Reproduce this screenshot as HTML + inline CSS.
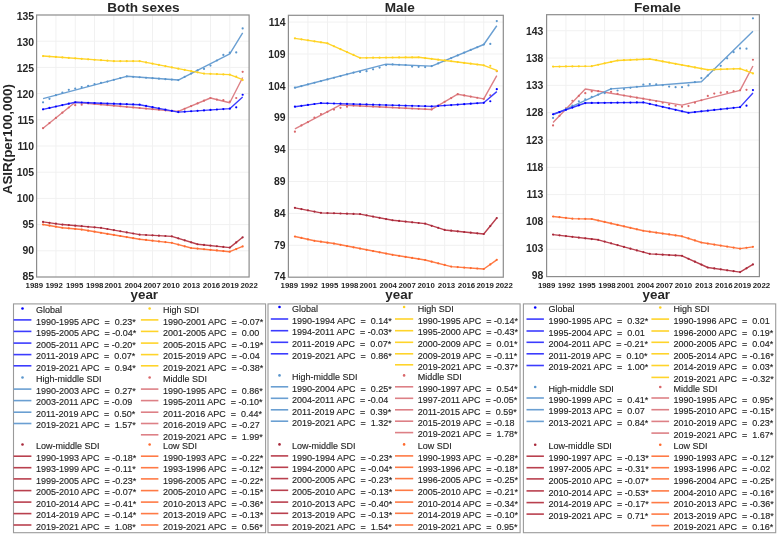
<!DOCTYPE html>
<html><head><meta charset="utf-8"><style>
html,body{margin:0;padding:0;background:#fff;}
svg{filter:blur(0.3px);}
body{width:778px;height:535px;position:relative;overflow:hidden;font-family:"Liberation Sans", sans-serif;}
</style></head><body>
<svg width="778" height="535" viewBox="0 0 778 535" style="position:absolute;left:0;top:0"><path d="M55.92 15.00V277.00M75.24 15.00V277.00M94.55 15.00V277.00M113.87 15.00V277.00M133.19 15.00V277.00M152.51 15.00V277.00M171.83 15.00V277.00M191.15 15.00V277.00M210.46 15.00V277.00M229.78 15.00V277.00M36.60 250.80H249.10M36.60 224.60H249.10M36.60 198.40H249.10M36.60 172.20H249.10M36.60 146.00H249.10M36.60 119.80H249.10M36.60 93.60H249.10M36.60 67.40H249.10M36.60 41.20H249.10" stroke="#f1f1f1" stroke-width="1" fill="none"/><polyline points="43.04,224.50 62.36,227.77 81.68,229.55 139.63,239.23 171.83,242.84 191.15,248.00 229.78,251.69 242.66,246.40" fill="none" stroke="#ff7a45" stroke-width="1.4" stroke-linejoin="round"/><g fill="#ff6a2e"><circle cx="43.04" cy="224.50" r="1.1"/><circle cx="49.48" cy="225.59" r="1.1"/><circle cx="55.92" cy="226.68" r="1.1"/><circle cx="62.36" cy="227.77" r="1.1"/><circle cx="68.80" cy="228.37" r="1.1"/><circle cx="75.24" cy="228.96" r="1.1"/><circle cx="81.68" cy="229.55" r="1.1"/><circle cx="88.12" cy="230.64" r="1.1"/><circle cx="94.55" cy="231.72" r="1.1"/><circle cx="100.99" cy="232.80" r="1.1"/><circle cx="107.43" cy="233.88" r="1.1"/><circle cx="113.87" cy="234.95" r="1.1"/><circle cx="120.31" cy="236.02" r="1.1"/><circle cx="126.75" cy="237.09" r="1.1"/><circle cx="133.19" cy="238.16" r="1.1"/><circle cx="139.63" cy="239.23" r="1.1"/><circle cx="146.07" cy="239.95" r="1.1"/><circle cx="152.51" cy="240.67" r="1.1"/><circle cx="158.95" cy="241.40" r="1.1"/><circle cx="165.39" cy="242.12" r="1.1"/><circle cx="171.83" cy="242.84" r="1.1"/><circle cx="178.27" cy="244.56" r="1.1"/><circle cx="184.71" cy="246.29" r="1.1"/><circle cx="191.15" cy="248.00" r="1.1"/><circle cx="197.58" cy="248.62" r="1.1"/><circle cx="204.02" cy="249.23" r="1.1"/><circle cx="210.46" cy="249.85" r="1.1"/><circle cx="216.90" cy="250.46" r="1.1"/><circle cx="223.34" cy="251.07" r="1.1"/><circle cx="229.78" cy="251.69" r="1.1"/><circle cx="236.22" cy="249.05" r="1.1"/><circle cx="242.66" cy="246.40" r="1.1"/></g><polyline points="43.04,221.88 62.36,224.57 100.99,227.85 139.63,234.64 171.83,236.34 197.58,244.26 229.78,247.60 242.66,237.29" fill="none" stroke="#b9404e" stroke-width="1.4" stroke-linejoin="round"/><g fill="#a8283a"><circle cx="43.04" cy="221.88" r="1.1"/><circle cx="49.48" cy="222.78" r="1.1"/><circle cx="55.92" cy="223.68" r="1.1"/><circle cx="62.36" cy="224.57" r="1.1"/><circle cx="68.80" cy="225.12" r="1.1"/><circle cx="75.24" cy="225.67" r="1.1"/><circle cx="81.68" cy="226.21" r="1.1"/><circle cx="88.12" cy="226.76" r="1.1"/><circle cx="94.55" cy="227.31" r="1.1"/><circle cx="100.99" cy="227.85" r="1.1"/><circle cx="107.43" cy="228.99" r="1.1"/><circle cx="113.87" cy="230.12" r="1.1"/><circle cx="120.31" cy="231.25" r="1.1"/><circle cx="126.75" cy="232.38" r="1.1"/><circle cx="133.19" cy="233.51" r="1.1"/><circle cx="139.63" cy="234.64" r="1.1"/><circle cx="146.07" cy="234.98" r="1.1"/><circle cx="152.51" cy="235.32" r="1.1"/><circle cx="158.95" cy="235.66" r="1.1"/><circle cx="165.39" cy="236.00" r="1.1"/><circle cx="171.83" cy="236.34" r="1.1"/><circle cx="178.27" cy="238.33" r="1.1"/><circle cx="184.71" cy="240.32" r="1.1"/><circle cx="191.15" cy="242.29" r="1.1"/><circle cx="197.58" cy="244.26" r="1.1"/><circle cx="204.02" cy="244.93" r="1.1"/><circle cx="210.46" cy="245.60" r="1.1"/><circle cx="216.90" cy="246.27" r="1.1"/><circle cx="223.34" cy="246.93" r="1.1"/><circle cx="229.78" cy="247.60" r="1.1"/><circle cx="236.22" cy="242.47" r="1.1"/><circle cx="242.66" cy="237.29" r="1.1"/></g><polyline points="43.04,128.18 75.24,102.19 178.27,111.44 210.46,97.99 229.78,102.73 242.66,77.46" fill="none" stroke="#dd8086" stroke-width="1.4" stroke-linejoin="round"/><g fill="#d9676a"><circle cx="43.04" cy="128.18" r="1.1"/><circle cx="49.48" cy="123.07" r="1.1"/><circle cx="55.92" cy="117.92" r="1.1"/><circle cx="62.36" cy="112.72" r="1.1"/><circle cx="68.80" cy="107.48" r="1.1"/><circle cx="75.24" cy="105.19" r="1.1"/><circle cx="81.68" cy="104.77" r="1.1"/><circle cx="88.12" cy="103.35" r="1.1"/><circle cx="94.55" cy="103.94" r="1.1"/><circle cx="100.99" cy="104.52" r="1.1"/><circle cx="107.43" cy="105.10" r="1.1"/><circle cx="113.87" cy="105.68" r="1.1"/><circle cx="120.31" cy="106.26" r="1.1"/><circle cx="126.75" cy="106.83" r="1.1"/><circle cx="133.19" cy="107.41" r="1.1"/><circle cx="139.63" cy="107.99" r="1.1"/><circle cx="146.07" cy="108.57" r="1.1"/><circle cx="152.51" cy="109.14" r="1.1"/><circle cx="158.95" cy="109.72" r="1.1"/><circle cx="165.39" cy="110.29" r="1.1"/><circle cx="171.83" cy="110.87" r="1.1"/><circle cx="178.27" cy="111.44" r="1.1"/><circle cx="184.71" cy="108.77" r="1.1"/><circle cx="191.15" cy="106.10" r="1.1"/><circle cx="197.58" cy="103.41" r="1.1"/><circle cx="204.02" cy="100.71" r="1.1"/><circle cx="210.46" cy="97.99" r="1.1"/><circle cx="216.90" cy="99.58" r="1.1"/><circle cx="223.34" cy="100.16" r="1.1"/><circle cx="229.78" cy="101.53" r="1.1"/><circle cx="236.22" cy="98.02" r="1.1"/><circle cx="242.66" cy="71.86" r="1.1"/></g><polyline points="43.04,98.58 126.75,76.32 178.27,80.06 229.78,53.85 242.66,32.92" fill="none" stroke="#6a9fd2" stroke-width="1.4" stroke-linejoin="round"/><g fill="#5a96cd"><circle cx="43.04" cy="102.28" r="1.1"/><circle cx="49.48" cy="98.79" r="1.1"/><circle cx="55.92" cy="95.20" r="1.1"/><circle cx="62.36" cy="92.61" r="1.1"/><circle cx="68.80" cy="89.81" r="1.1"/><circle cx="75.24" cy="88.61" r="1.1"/><circle cx="81.68" cy="87.05" r="1.1"/><circle cx="88.12" cy="85.89" r="1.1"/><circle cx="94.55" cy="84.08" r="1.1"/><circle cx="100.99" cy="82.80" r="1.1"/><circle cx="107.43" cy="81.53" r="1.1"/><circle cx="113.87" cy="79.80" r="1.1"/><circle cx="120.31" cy="78.06" r="1.1"/><circle cx="126.75" cy="76.32" r="1.1"/><circle cx="133.19" cy="76.79" r="1.1"/><circle cx="139.63" cy="77.26" r="1.1"/><circle cx="146.07" cy="77.73" r="1.1"/><circle cx="152.51" cy="78.20" r="1.1"/><circle cx="158.95" cy="78.66" r="1.1"/><circle cx="165.39" cy="79.13" r="1.1"/><circle cx="171.83" cy="79.60" r="1.1"/><circle cx="178.27" cy="80.06" r="1.1"/><circle cx="184.71" cy="76.84" r="1.1"/><circle cx="191.15" cy="73.61" r="1.1"/><circle cx="197.58" cy="70.35" r="1.1"/><circle cx="204.02" cy="68.89" r="1.1"/><circle cx="210.46" cy="65.60" r="1.1"/><circle cx="216.90" cy="60.50" r="1.1"/><circle cx="223.34" cy="54.88" r="1.1"/><circle cx="229.78" cy="52.65" r="1.1"/><circle cx="236.22" cy="52.47" r="1.1"/><circle cx="242.66" cy="28.42" r="1.1"/></g><polyline points="43.04,56.03 113.87,61.14 139.63,61.14 204.02,73.60 229.78,74.64 242.66,79.55" fill="none" stroke="#ffd42a" stroke-width="1.4" stroke-linejoin="round"/><g fill="#ffd21e"><circle cx="43.04" cy="56.03" r="1.1"/><circle cx="49.48" cy="56.50" r="1.1"/><circle cx="55.92" cy="56.96" r="1.1"/><circle cx="62.36" cy="57.43" r="1.1"/><circle cx="68.80" cy="57.89" r="1.1"/><circle cx="75.24" cy="58.36" r="1.1"/><circle cx="81.68" cy="58.82" r="1.1"/><circle cx="88.12" cy="59.29" r="1.1"/><circle cx="94.55" cy="59.75" r="1.1"/><circle cx="100.99" cy="60.22" r="1.1"/><circle cx="107.43" cy="60.68" r="1.1"/><circle cx="113.87" cy="61.14" r="1.1"/><circle cx="120.31" cy="61.14" r="1.1"/><circle cx="126.75" cy="61.14" r="1.1"/><circle cx="133.19" cy="61.14" r="1.1"/><circle cx="139.63" cy="61.14" r="1.1"/><circle cx="146.07" cy="62.40" r="1.1"/><circle cx="152.51" cy="63.65" r="1.1"/><circle cx="158.95" cy="64.90" r="1.1"/><circle cx="165.39" cy="66.15" r="1.1"/><circle cx="171.83" cy="67.40" r="1.1"/><circle cx="178.27" cy="68.64" r="1.1"/><circle cx="184.71" cy="69.89" r="1.1"/><circle cx="191.15" cy="71.13" r="1.1"/><circle cx="197.58" cy="72.36" r="1.1"/><circle cx="204.02" cy="73.60" r="1.1"/><circle cx="210.46" cy="73.86" r="1.1"/><circle cx="216.90" cy="74.12" r="1.1"/><circle cx="223.34" cy="74.38" r="1.1"/><circle cx="229.78" cy="74.64" r="1.1"/><circle cx="236.22" cy="76.60" r="1.1"/><circle cx="242.66" cy="80.05" r="1.1"/></g><polyline points="43.04,109.32 75.24,102.24 139.63,104.71 178.27,112.09 229.78,108.66 242.66,97.07" fill="none" stroke="#3c3cff" stroke-width="1.4" stroke-linejoin="round"/><g fill="#0000ff"><circle cx="43.04" cy="109.32" r="1.1"/><circle cx="49.48" cy="107.91" r="1.1"/><circle cx="55.92" cy="106.50" r="1.1"/><circle cx="62.36" cy="105.08" r="1.1"/><circle cx="68.80" cy="103.66" r="1.1"/><circle cx="75.24" cy="102.24" r="1.1"/><circle cx="81.68" cy="102.49" r="1.1"/><circle cx="88.12" cy="102.73" r="1.1"/><circle cx="94.55" cy="102.98" r="1.1"/><circle cx="100.99" cy="103.23" r="1.1"/><circle cx="107.43" cy="103.48" r="1.1"/><circle cx="113.87" cy="103.72" r="1.1"/><circle cx="120.31" cy="103.97" r="1.1"/><circle cx="126.75" cy="104.22" r="1.1"/><circle cx="133.19" cy="104.47" r="1.1"/><circle cx="139.63" cy="104.71" r="1.1"/><circle cx="146.07" cy="105.95" r="1.1"/><circle cx="152.51" cy="107.18" r="1.1"/><circle cx="158.95" cy="108.41" r="1.1"/><circle cx="165.39" cy="109.64" r="1.1"/><circle cx="171.83" cy="110.87" r="1.1"/><circle cx="178.27" cy="112.09" r="1.1"/><circle cx="184.71" cy="111.66" r="1.1"/><circle cx="191.15" cy="111.23" r="1.1"/><circle cx="197.58" cy="110.81" r="1.1"/><circle cx="204.02" cy="110.38" r="1.1"/><circle cx="210.46" cy="109.95" r="1.1"/><circle cx="216.90" cy="109.52" r="1.1"/><circle cx="223.34" cy="109.09" r="1.1"/><circle cx="229.78" cy="108.66" r="1.1"/><circle cx="236.22" cy="107.29" r="1.1"/><circle cx="242.66" cy="94.77" r="1.1"/></g><rect x="36.60" y="15.00" width="212.50" height="262.00" fill="none" stroke="#8c8c8c" stroke-width="1.2"/><text transform="translate(34.15,280) scale(1.04,1)" text-anchor="end" font-family='"Liberation Sans", sans-serif' font-weight="bold" font-size="10" fill="#262626">85</text><text transform="translate(34.15,254) scale(1.04,1)" text-anchor="end" font-family='"Liberation Sans", sans-serif' font-weight="bold" font-size="10" fill="#262626">90</text><text transform="translate(34.15,228) scale(1.04,1)" text-anchor="end" font-family='"Liberation Sans", sans-serif' font-weight="bold" font-size="10" fill="#262626">95</text><text transform="translate(34.15,202) scale(1.04,1)" text-anchor="end" font-family='"Liberation Sans", sans-serif' font-weight="bold" font-size="10" fill="#262626">100</text><text transform="translate(34.15,176) scale(1.04,1)" text-anchor="end" font-family='"Liberation Sans", sans-serif' font-weight="bold" font-size="10" fill="#262626">105</text><text transform="translate(34.15,150) scale(1.04,1)" text-anchor="end" font-family='"Liberation Sans", sans-serif' font-weight="bold" font-size="10" fill="#262626">110</text><text transform="translate(34.15,124) scale(1.04,1)" text-anchor="end" font-family='"Liberation Sans", sans-serif' font-weight="bold" font-size="10" fill="#262626">115</text><text transform="translate(34.15,98) scale(1.04,1)" text-anchor="end" font-family='"Liberation Sans", sans-serif' font-weight="bold" font-size="10" fill="#262626">120</text><text transform="translate(34.15,72) scale(1.04,1)" text-anchor="end" font-family='"Liberation Sans", sans-serif' font-weight="bold" font-size="10" fill="#262626">125</text><text transform="translate(34.15,46) scale(1.04,1)" text-anchor="end" font-family='"Liberation Sans", sans-serif' font-weight="bold" font-size="10" fill="#262626">130</text><text transform="translate(34.15,20) scale(1.04,1)" text-anchor="end" font-family='"Liberation Sans", sans-serif' font-weight="bold" font-size="10" fill="#262626">135</text><text transform="translate(34.30,288.3) scale(0.97,1)" text-anchor="middle" font-family='"Liberation Sans", sans-serif' font-weight="bold" font-size="8.1" fill="#262626">1989</text><text transform="translate(54.10,288.3) scale(0.97,1)" text-anchor="middle" font-family='"Liberation Sans", sans-serif' font-weight="bold" font-size="8.1" fill="#262626">1992</text><text transform="translate(74.60,288.3) scale(0.97,1)" text-anchor="middle" font-family='"Liberation Sans", sans-serif' font-weight="bold" font-size="8.1" fill="#262626">1995</text><text transform="translate(94.70,288.3) scale(0.97,1)" text-anchor="middle" font-family='"Liberation Sans", sans-serif' font-weight="bold" font-size="8.1" fill="#262626">1998</text><text transform="translate(113.20,288.3) scale(0.97,1)" text-anchor="middle" font-family='"Liberation Sans", sans-serif' font-weight="bold" font-size="8.1" fill="#262626">2001</text><text transform="translate(133.20,288.3) scale(0.97,1)" text-anchor="middle" font-family='"Liberation Sans", sans-serif' font-weight="bold" font-size="8.1" fill="#262626">2004</text><text transform="translate(152.10,288.3) scale(0.97,1)" text-anchor="middle" font-family='"Liberation Sans", sans-serif' font-weight="bold" font-size="8.1" fill="#262626">2007</text><text transform="translate(171.10,288.3) scale(0.97,1)" text-anchor="middle" font-family='"Liberation Sans", sans-serif' font-weight="bold" font-size="8.1" fill="#262626">2010</text><text transform="translate(191.50,288.3) scale(0.97,1)" text-anchor="middle" font-family='"Liberation Sans", sans-serif' font-weight="bold" font-size="8.1" fill="#262626">2013</text><text transform="translate(211.50,288.3) scale(0.97,1)" text-anchor="middle" font-family='"Liberation Sans", sans-serif' font-weight="bold" font-size="8.1" fill="#262626">2016</text><text transform="translate(230.20,288.3) scale(0.97,1)" text-anchor="middle" font-family='"Liberation Sans", sans-serif' font-weight="bold" font-size="8.1" fill="#262626">2019</text><text transform="translate(249.10,288.3) scale(0.97,1)" text-anchor="middle" font-family='"Liberation Sans", sans-serif' font-weight="bold" font-size="8.1" fill="#262626">2022</text><text x="143.40" y="11.6" text-anchor="middle" font-family='"Liberation Sans", sans-serif' font-weight="bold" font-size="13.6" fill="#262626">Both sexes</text><text transform="translate(144.30,298.6) scale(1.03,0.92)" text-anchor="middle" font-family='"Liberation Sans", sans-serif' font-weight="bold" font-size="13" fill="#262626">year</text><path d="M307.94 15.30V277.20M327.47 15.30V277.20M347.01 15.30V277.20M366.55 15.30V277.20M386.08 15.30V277.20M405.62 15.30V277.20M425.15 15.30V277.20M444.69 15.30V277.20M464.23 15.30V277.20M483.76 15.30V277.20M288.40 245.31H503.30M288.40 213.42H503.30M288.40 181.53H503.30M288.40 149.64H503.30M288.40 117.75H503.30M288.40 85.86H503.30M288.40 53.97H503.30M288.40 22.08H503.30" stroke="#f1f1f1" stroke-width="1" fill="none"/><polyline points="294.91,236.51 314.45,240.80 333.98,243.54 392.59,254.81 425.15,259.98 451.20,266.59 483.76,269.00 496.79,259.84" fill="none" stroke="#ff7a45" stroke-width="1.4" stroke-linejoin="round"/><g fill="#ff6a2e"><circle cx="294.91" cy="236.51" r="1.1"/><circle cx="301.42" cy="237.94" r="1.1"/><circle cx="307.94" cy="239.38" r="1.1"/><circle cx="314.45" cy="240.80" r="1.1"/><circle cx="320.96" cy="241.72" r="1.1"/><circle cx="327.47" cy="242.63" r="1.1"/><circle cx="333.98" cy="243.54" r="1.1"/><circle cx="340.50" cy="244.81" r="1.1"/><circle cx="347.01" cy="246.07" r="1.1"/><circle cx="353.52" cy="247.33" r="1.1"/><circle cx="360.03" cy="248.58" r="1.1"/><circle cx="366.55" cy="249.83" r="1.1"/><circle cx="373.06" cy="251.08" r="1.1"/><circle cx="379.57" cy="252.33" r="1.1"/><circle cx="386.08" cy="253.57" r="1.1"/><circle cx="392.59" cy="254.81" r="1.1"/><circle cx="399.11" cy="255.84" r="1.1"/><circle cx="405.62" cy="256.88" r="1.1"/><circle cx="412.13" cy="257.91" r="1.1"/><circle cx="418.64" cy="258.95" r="1.1"/><circle cx="425.15" cy="259.98" r="1.1"/><circle cx="431.67" cy="261.64" r="1.1"/><circle cx="438.18" cy="263.30" r="1.1"/><circle cx="444.69" cy="264.95" r="1.1"/><circle cx="451.20" cy="266.59" r="1.1"/><circle cx="457.72" cy="267.08" r="1.1"/><circle cx="464.23" cy="267.56" r="1.1"/><circle cx="470.74" cy="268.04" r="1.1"/><circle cx="477.25" cy="268.52" r="1.1"/><circle cx="483.76" cy="269.00" r="1.1"/><circle cx="490.28" cy="264.44" r="1.1"/><circle cx="496.79" cy="259.84" r="1.1"/></g><polyline points="294.91,207.87 320.96,212.83 360.03,214.12 392.59,220.24 425.15,223.67 444.69,229.95 483.76,233.99 496.79,218.00" fill="none" stroke="#b9404e" stroke-width="1.4" stroke-linejoin="round"/><g fill="#a8283a"><circle cx="294.91" cy="207.87" r="1.1"/><circle cx="301.42" cy="209.12" r="1.1"/><circle cx="307.94" cy="210.36" r="1.1"/><circle cx="314.45" cy="211.60" r="1.1"/><circle cx="320.96" cy="212.83" r="1.1"/><circle cx="327.47" cy="213.05" r="1.1"/><circle cx="333.98" cy="213.26" r="1.1"/><circle cx="340.50" cy="213.48" r="1.1"/><circle cx="347.01" cy="213.69" r="1.1"/><circle cx="353.52" cy="213.91" r="1.1"/><circle cx="360.03" cy="214.12" r="1.1"/><circle cx="366.55" cy="215.35" r="1.1"/><circle cx="373.06" cy="216.58" r="1.1"/><circle cx="379.57" cy="217.80" r="1.1"/><circle cx="386.08" cy="219.03" r="1.1"/><circle cx="392.59" cy="220.24" r="1.1"/><circle cx="399.11" cy="220.93" r="1.1"/><circle cx="405.62" cy="221.62" r="1.1"/><circle cx="412.13" cy="222.30" r="1.1"/><circle cx="418.64" cy="222.99" r="1.1"/><circle cx="425.15" cy="223.67" r="1.1"/><circle cx="431.67" cy="225.78" r="1.1"/><circle cx="438.18" cy="227.87" r="1.1"/><circle cx="444.69" cy="229.95" r="1.1"/><circle cx="451.20" cy="230.63" r="1.1"/><circle cx="457.72" cy="231.30" r="1.1"/><circle cx="464.23" cy="231.98" r="1.1"/><circle cx="470.74" cy="232.65" r="1.1"/><circle cx="477.25" cy="233.32" r="1.1"/><circle cx="483.76" cy="233.99" r="1.1"/><circle cx="490.28" cy="226.06" r="1.1"/><circle cx="496.79" cy="218.00" r="1.1"/></g><polyline points="294.91,128.78 340.50,104.95 431.67,109.44 457.72,94.21 483.76,98.92 496.79,75.56" fill="none" stroke="#dd8086" stroke-width="1.4" stroke-linejoin="round"/><g fill="#d9676a"><circle cx="294.91" cy="131.68" r="1.1"/><circle cx="301.42" cy="125.43" r="1.1"/><circle cx="307.94" cy="122.07" r="1.1"/><circle cx="314.45" cy="117.58" r="1.1"/><circle cx="320.96" cy="114.07" r="1.1"/><circle cx="327.47" cy="111.85" r="1.1"/><circle cx="333.98" cy="109.61" r="1.1"/><circle cx="340.50" cy="107.85" r="1.1"/><circle cx="347.01" cy="106.67" r="1.1"/><circle cx="353.52" cy="105.59" r="1.1"/><circle cx="360.03" cy="105.92" r="1.1"/><circle cx="366.55" cy="106.24" r="1.1"/><circle cx="373.06" cy="106.56" r="1.1"/><circle cx="379.57" cy="106.88" r="1.1"/><circle cx="386.08" cy="107.20" r="1.1"/><circle cx="392.59" cy="107.52" r="1.1"/><circle cx="399.11" cy="107.84" r="1.1"/><circle cx="405.62" cy="108.16" r="1.1"/><circle cx="412.13" cy="108.48" r="1.1"/><circle cx="418.64" cy="108.80" r="1.1"/><circle cx="425.15" cy="109.12" r="1.1"/><circle cx="431.67" cy="109.44" r="1.1"/><circle cx="438.18" cy="105.67" r="1.1"/><circle cx="444.69" cy="101.87" r="1.1"/><circle cx="451.20" cy="98.05" r="1.1"/><circle cx="457.72" cy="94.21" r="1.1"/><circle cx="464.23" cy="95.39" r="1.1"/><circle cx="470.74" cy="96.57" r="1.1"/><circle cx="477.25" cy="97.74" r="1.1"/><circle cx="483.76" cy="98.92" r="1.1"/><circle cx="490.28" cy="95.34" r="1.1"/><circle cx="496.79" cy="71.26" r="1.1"/></g><polyline points="294.91,87.71 386.08,64.18 431.67,66.09 483.76,44.49 496.79,25.76" fill="none" stroke="#6a9fd2" stroke-width="1.4" stroke-linejoin="round"/><g fill="#5a96cd"><circle cx="294.91" cy="87.71" r="1.1"/><circle cx="301.42" cy="86.06" r="1.1"/><circle cx="307.94" cy="84.40" r="1.1"/><circle cx="314.45" cy="82.74" r="1.1"/><circle cx="320.96" cy="81.07" r="1.1"/><circle cx="327.47" cy="79.40" r="1.1"/><circle cx="333.98" cy="77.73" r="1.1"/><circle cx="340.50" cy="76.05" r="1.1"/><circle cx="347.01" cy="74.36" r="1.1"/><circle cx="353.52" cy="72.68" r="1.1"/><circle cx="360.03" cy="71.89" r="1.1"/><circle cx="366.55" cy="71.19" r="1.1"/><circle cx="373.06" cy="69.29" r="1.1"/><circle cx="379.57" cy="67.59" r="1.1"/><circle cx="386.08" cy="65.08" r="1.1"/><circle cx="392.59" cy="64.45" r="1.1"/><circle cx="399.11" cy="64.73" r="1.1"/><circle cx="405.62" cy="65.00" r="1.1"/><circle cx="412.13" cy="66.57" r="1.1"/><circle cx="418.64" cy="66.85" r="1.1"/><circle cx="425.15" cy="67.12" r="1.1"/><circle cx="431.67" cy="66.09" r="1.1"/><circle cx="438.18" cy="63.43" r="1.1"/><circle cx="444.69" cy="60.76" r="1.1"/><circle cx="451.20" cy="58.07" r="1.1"/><circle cx="457.72" cy="55.38" r="1.1"/><circle cx="464.23" cy="52.67" r="1.1"/><circle cx="470.74" cy="49.95" r="1.1"/><circle cx="477.25" cy="47.23" r="1.1"/><circle cx="483.76" cy="44.49" r="1.1"/><circle cx="490.28" cy="43.89" r="1.1"/><circle cx="496.79" cy="21.06" r="1.1"/></g><polyline points="294.91,38.34 327.47,43.31 360.03,57.85 418.64,57.23 483.76,65.30 496.79,70.35" fill="none" stroke="#ffd42a" stroke-width="1.4" stroke-linejoin="round"/><g fill="#ffd21e"><circle cx="294.91" cy="38.34" r="1.1"/><circle cx="301.42" cy="39.34" r="1.1"/><circle cx="307.94" cy="40.33" r="1.1"/><circle cx="314.45" cy="41.33" r="1.1"/><circle cx="320.96" cy="42.32" r="1.1"/><circle cx="327.47" cy="43.31" r="1.1"/><circle cx="333.98" cy="46.24" r="1.1"/><circle cx="340.50" cy="49.16" r="1.1"/><circle cx="347.01" cy="52.07" r="1.1"/><circle cx="353.52" cy="54.97" r="1.1"/><circle cx="360.03" cy="57.85" r="1.1"/><circle cx="366.55" cy="57.78" r="1.1"/><circle cx="373.06" cy="57.71" r="1.1"/><circle cx="379.57" cy="57.64" r="1.1"/><circle cx="386.08" cy="57.58" r="1.1"/><circle cx="392.59" cy="57.51" r="1.1"/><circle cx="399.11" cy="57.44" r="1.1"/><circle cx="405.62" cy="57.37" r="1.1"/><circle cx="412.13" cy="57.30" r="1.1"/><circle cx="418.64" cy="57.23" r="1.1"/><circle cx="425.15" cy="58.04" r="1.1"/><circle cx="431.67" cy="58.85" r="1.1"/><circle cx="438.18" cy="59.66" r="1.1"/><circle cx="444.69" cy="60.47" r="1.1"/><circle cx="451.20" cy="61.27" r="1.1"/><circle cx="457.72" cy="62.08" r="1.1"/><circle cx="464.23" cy="62.89" r="1.1"/><circle cx="470.74" cy="63.69" r="1.1"/><circle cx="477.25" cy="64.50" r="1.1"/><circle cx="483.76" cy="65.30" r="1.1"/><circle cx="490.28" cy="65.83" r="1.1"/><circle cx="496.79" cy="70.85" r="1.1"/></g><polyline points="294.91,106.72 320.96,103.11 431.67,106.40 483.76,102.79 496.79,91.62" fill="none" stroke="#3c3cff" stroke-width="1.4" stroke-linejoin="round"/><g fill="#0000ff"><circle cx="294.91" cy="106.72" r="1.1"/><circle cx="301.42" cy="105.82" r="1.1"/><circle cx="307.94" cy="104.92" r="1.1"/><circle cx="314.45" cy="104.01" r="1.1"/><circle cx="320.96" cy="103.11" r="1.1"/><circle cx="327.47" cy="103.30" r="1.1"/><circle cx="333.98" cy="103.50" r="1.1"/><circle cx="340.50" cy="103.69" r="1.1"/><circle cx="347.01" cy="103.89" r="1.1"/><circle cx="353.52" cy="104.08" r="1.1"/><circle cx="360.03" cy="104.27" r="1.1"/><circle cx="366.55" cy="104.47" r="1.1"/><circle cx="373.06" cy="104.66" r="1.1"/><circle cx="379.57" cy="104.85" r="1.1"/><circle cx="386.08" cy="105.05" r="1.1"/><circle cx="392.59" cy="105.24" r="1.1"/><circle cx="399.11" cy="105.43" r="1.1"/><circle cx="405.62" cy="105.63" r="1.1"/><circle cx="412.13" cy="105.82" r="1.1"/><circle cx="418.64" cy="106.01" r="1.1"/><circle cx="425.15" cy="106.20" r="1.1"/><circle cx="431.67" cy="106.40" r="1.1"/><circle cx="438.18" cy="105.95" r="1.1"/><circle cx="444.69" cy="105.50" r="1.1"/><circle cx="451.20" cy="105.05" r="1.1"/><circle cx="457.72" cy="104.60" r="1.1"/><circle cx="464.23" cy="104.14" r="1.1"/><circle cx="470.74" cy="103.69" r="1.1"/><circle cx="477.25" cy="103.24" r="1.1"/><circle cx="483.76" cy="102.79" r="1.1"/><circle cx="490.28" cy="101.23" r="1.1"/><circle cx="496.79" cy="89.22" r="1.1"/></g><rect x="288.40" y="15.30" width="214.90" height="261.90" fill="none" stroke="#8c8c8c" stroke-width="1.2"/><text transform="translate(285.55,280) scale(1.04,1)" text-anchor="end" font-family='"Liberation Sans", sans-serif' font-weight="bold" font-size="10" fill="#262626">74</text><text transform="translate(285.55,249) scale(1.04,1)" text-anchor="end" font-family='"Liberation Sans", sans-serif' font-weight="bold" font-size="10" fill="#262626">79</text><text transform="translate(285.55,217) scale(1.04,1)" text-anchor="end" font-family='"Liberation Sans", sans-serif' font-weight="bold" font-size="10" fill="#262626">84</text><text transform="translate(285.55,185) scale(1.04,1)" text-anchor="end" font-family='"Liberation Sans", sans-serif' font-weight="bold" font-size="10" fill="#262626">89</text><text transform="translate(285.55,153) scale(1.04,1)" text-anchor="end" font-family='"Liberation Sans", sans-serif' font-weight="bold" font-size="10" fill="#262626">94</text><text transform="translate(285.55,121) scale(1.04,1)" text-anchor="end" font-family='"Liberation Sans", sans-serif' font-weight="bold" font-size="10" fill="#262626">99</text><text transform="translate(285.55,90) scale(1.04,1)" text-anchor="end" font-family='"Liberation Sans", sans-serif' font-weight="bold" font-size="10" fill="#262626">104</text><text transform="translate(285.55,58) scale(1.04,1)" text-anchor="end" font-family='"Liberation Sans", sans-serif' font-weight="bold" font-size="10" fill="#262626">109</text><text transform="translate(285.55,26) scale(1.04,1)" text-anchor="end" font-family='"Liberation Sans", sans-serif' font-weight="bold" font-size="10" fill="#262626">114</text><text transform="translate(289.30,288.3) scale(0.97,1)" text-anchor="middle" font-family='"Liberation Sans", sans-serif' font-weight="bold" font-size="8.1" fill="#262626">1989</text><text transform="translate(309.10,288.3) scale(0.97,1)" text-anchor="middle" font-family='"Liberation Sans", sans-serif' font-weight="bold" font-size="8.1" fill="#262626">1992</text><text transform="translate(329.60,288.3) scale(0.97,1)" text-anchor="middle" font-family='"Liberation Sans", sans-serif' font-weight="bold" font-size="8.1" fill="#262626">1995</text><text transform="translate(349.70,288.3) scale(0.97,1)" text-anchor="middle" font-family='"Liberation Sans", sans-serif' font-weight="bold" font-size="8.1" fill="#262626">1998</text><text transform="translate(368.20,288.3) scale(0.97,1)" text-anchor="middle" font-family='"Liberation Sans", sans-serif' font-weight="bold" font-size="8.1" fill="#262626">2001</text><text transform="translate(388.20,288.3) scale(0.97,1)" text-anchor="middle" font-family='"Liberation Sans", sans-serif' font-weight="bold" font-size="8.1" fill="#262626">2004</text><text transform="translate(407.10,288.3) scale(0.97,1)" text-anchor="middle" font-family='"Liberation Sans", sans-serif' font-weight="bold" font-size="8.1" fill="#262626">2007</text><text transform="translate(426.10,288.3) scale(0.97,1)" text-anchor="middle" font-family='"Liberation Sans", sans-serif' font-weight="bold" font-size="8.1" fill="#262626">2010</text><text transform="translate(446.50,288.3) scale(0.97,1)" text-anchor="middle" font-family='"Liberation Sans", sans-serif' font-weight="bold" font-size="8.1" fill="#262626">2013</text><text transform="translate(466.50,288.3) scale(0.97,1)" text-anchor="middle" font-family='"Liberation Sans", sans-serif' font-weight="bold" font-size="8.1" fill="#262626">2016</text><text transform="translate(485.20,288.3) scale(0.97,1)" text-anchor="middle" font-family='"Liberation Sans", sans-serif' font-weight="bold" font-size="8.1" fill="#262626">2019</text><text transform="translate(504.10,288.3) scale(0.97,1)" text-anchor="middle" font-family='"Liberation Sans", sans-serif' font-weight="bold" font-size="8.1" fill="#262626">2022</text><text x="399.80" y="11.6" text-anchor="middle" font-family='"Liberation Sans", sans-serif' font-weight="bold" font-size="13.6" fill="#262626">Male</text><text transform="translate(399.10,298.6) scale(1.03,0.92)" text-anchor="middle" font-family='"Liberation Sans", sans-serif' font-weight="bold" font-size="13" fill="#262626">year</text><path d="M565.95 14.70V276.60M585.29 14.70V276.60M604.64 14.70V276.60M623.98 14.70V276.60M643.33 14.70V276.60M662.67 14.70V276.60M682.02 14.70V276.60M701.36 14.70V276.60M720.71 14.70V276.60M740.05 14.70V276.60M546.60 249.28H759.40M546.60 221.96H759.40M546.60 194.64H759.40M546.60 167.32H759.40M546.60 140.00H759.40M546.60 112.68H759.40M546.60 85.36H759.40M546.60 58.04H759.40M546.60 30.72H759.40" stroke="#f1f1f1" stroke-width="1" fill="none"/><polyline points="553.05,216.50 572.39,218.64 591.74,218.99 643.33,230.75 682.02,236.31 701.36,242.51 740.05,248.63 752.95,246.83" fill="none" stroke="#ff7a45" stroke-width="1.4" stroke-linejoin="round"/><g fill="#ff6a2e"><circle cx="553.05" cy="216.50" r="1.1"/><circle cx="559.50" cy="217.21" r="1.1"/><circle cx="565.95" cy="217.92" r="1.1"/><circle cx="572.39" cy="218.64" r="1.1"/><circle cx="578.84" cy="218.76" r="1.1"/><circle cx="585.29" cy="218.87" r="1.1"/><circle cx="591.74" cy="218.99" r="1.1"/><circle cx="598.19" cy="220.48" r="1.1"/><circle cx="604.64" cy="221.96" r="1.1"/><circle cx="611.08" cy="223.43" r="1.1"/><circle cx="617.53" cy="224.90" r="1.1"/><circle cx="623.98" cy="226.37" r="1.1"/><circle cx="630.43" cy="227.83" r="1.1"/><circle cx="636.88" cy="229.29" r="1.1"/><circle cx="643.33" cy="230.75" r="1.1"/><circle cx="649.78" cy="231.68" r="1.1"/><circle cx="656.22" cy="232.61" r="1.1"/><circle cx="662.67" cy="233.54" r="1.1"/><circle cx="669.12" cy="234.46" r="1.1"/><circle cx="675.57" cy="235.39" r="1.1"/><circle cx="682.02" cy="236.31" r="1.1"/><circle cx="688.47" cy="238.38" r="1.1"/><circle cx="694.92" cy="240.45" r="1.1"/><circle cx="701.36" cy="242.51" r="1.1"/><circle cx="707.81" cy="243.53" r="1.1"/><circle cx="714.26" cy="244.55" r="1.1"/><circle cx="720.71" cy="245.58" r="1.1"/><circle cx="727.16" cy="246.60" r="1.1"/><circle cx="733.61" cy="247.61" r="1.1"/><circle cx="740.05" cy="248.63" r="1.1"/><circle cx="746.50" cy="247.73" r="1.1"/><circle cx="752.95" cy="246.83" r="1.1"/></g><polyline points="553.05,234.58 598.19,239.82 649.78,253.86 682.02,255.81 707.81,267.51 740.05,272.12 752.95,264.42" fill="none" stroke="#b9404e" stroke-width="1.4" stroke-linejoin="round"/><g fill="#a8283a"><circle cx="553.05" cy="234.58" r="1.1"/><circle cx="559.50" cy="235.33" r="1.1"/><circle cx="565.95" cy="236.08" r="1.1"/><circle cx="572.39" cy="236.83" r="1.1"/><circle cx="578.84" cy="237.58" r="1.1"/><circle cx="585.29" cy="238.33" r="1.1"/><circle cx="591.74" cy="239.07" r="1.1"/><circle cx="598.19" cy="239.82" r="1.1"/><circle cx="604.64" cy="241.59" r="1.1"/><circle cx="611.08" cy="243.36" r="1.1"/><circle cx="617.53" cy="245.12" r="1.1"/><circle cx="623.98" cy="246.88" r="1.1"/><circle cx="630.43" cy="248.63" r="1.1"/><circle cx="636.88" cy="250.38" r="1.1"/><circle cx="643.33" cy="252.12" r="1.1"/><circle cx="649.78" cy="253.86" r="1.1"/><circle cx="656.22" cy="254.25" r="1.1"/><circle cx="662.67" cy="254.64" r="1.1"/><circle cx="669.12" cy="255.03" r="1.1"/><circle cx="675.57" cy="255.42" r="1.1"/><circle cx="682.02" cy="255.81" r="1.1"/><circle cx="688.47" cy="258.75" r="1.1"/><circle cx="694.92" cy="261.69" r="1.1"/><circle cx="701.36" cy="264.60" r="1.1"/><circle cx="707.81" cy="267.51" r="1.1"/><circle cx="714.26" cy="268.43" r="1.1"/><circle cx="720.71" cy="269.36" r="1.1"/><circle cx="727.16" cy="270.28" r="1.1"/><circle cx="733.61" cy="271.20" r="1.1"/><circle cx="740.05" cy="272.12" r="1.1"/><circle cx="746.50" cy="268.29" r="1.1"/><circle cx="752.95" cy="264.42" r="1.1"/></g><polyline points="553.05,122.41 585.29,89.02 682.02,105.12 740.05,90.35 752.95,66.04" fill="none" stroke="#dd8086" stroke-width="1.4" stroke-linejoin="round"/><g fill="#d9676a"><circle cx="553.05" cy="125.41" r="1.1"/><circle cx="559.50" cy="115.85" r="1.1"/><circle cx="565.95" cy="108.24" r="1.1"/><circle cx="572.39" cy="100.76" r="1.1"/><circle cx="578.84" cy="95.82" r="1.1"/><circle cx="585.29" cy="93.22" r="1.1"/><circle cx="591.74" cy="91.40" r="1.1"/><circle cx="598.19" cy="91.19" r="1.1"/><circle cx="604.64" cy="92.27" r="1.1"/><circle cx="611.08" cy="91.85" r="1.1"/><circle cx="617.53" cy="93.83" r="1.1"/><circle cx="623.98" cy="95.50" r="1.1"/><circle cx="630.43" cy="96.58" r="1.1"/><circle cx="636.88" cy="97.65" r="1.1"/><circle cx="643.33" cy="98.72" r="1.1"/><circle cx="649.78" cy="99.79" r="1.1"/><circle cx="656.22" cy="101.16" r="1.1"/><circle cx="662.67" cy="102.73" r="1.1"/><circle cx="669.12" cy="104.44" r="1.1"/><circle cx="675.57" cy="105.76" r="1.1"/><circle cx="682.02" cy="106.72" r="1.1"/><circle cx="688.47" cy="106.09" r="1.1"/><circle cx="694.92" cy="102.71" r="1.1"/><circle cx="701.36" cy="100.23" r="1.1"/><circle cx="707.81" cy="95.89" r="1.1"/><circle cx="714.26" cy="93.55" r="1.1"/><circle cx="720.71" cy="92.71" r="1.1"/><circle cx="727.16" cy="92.06" r="1.1"/><circle cx="733.61" cy="91.20" r="1.1"/><circle cx="740.05" cy="90.35" r="1.1"/><circle cx="746.50" cy="89.80" r="1.1"/><circle cx="752.95" cy="59.74" r="1.1"/></g><polyline points="553.05,114.97 611.08,88.83 701.36,81.71 752.95,31.16" fill="none" stroke="#6a9fd2" stroke-width="1.4" stroke-linejoin="round"/><g fill="#5a96cd"><circle cx="553.05" cy="117.97" r="1.1"/><circle cx="559.50" cy="112.12" r="1.1"/><circle cx="565.95" cy="109.25" r="1.1"/><circle cx="572.39" cy="105.57" r="1.1"/><circle cx="578.84" cy="101.37" r="1.1"/><circle cx="585.29" cy="99.27" r="1.1"/><circle cx="591.74" cy="96.95" r="1.1"/><circle cx="598.19" cy="94.72" r="1.1"/><circle cx="604.64" cy="93.18" r="1.1"/><circle cx="611.08" cy="88.83" r="1.1"/><circle cx="617.53" cy="90.52" r="1.1"/><circle cx="623.98" cy="89.11" r="1.1"/><circle cx="630.43" cy="87.81" r="1.1"/><circle cx="636.88" cy="86.80" r="1.1"/><circle cx="643.33" cy="84.69" r="1.1"/><circle cx="649.78" cy="84.08" r="1.1"/><circle cx="656.22" cy="84.27" r="1.1"/><circle cx="662.67" cy="85.27" r="1.1"/><circle cx="669.12" cy="86.56" r="1.1"/><circle cx="675.57" cy="87.15" r="1.1"/><circle cx="682.02" cy="87.14" r="1.1"/><circle cx="688.47" cy="85.43" r="1.1"/><circle cx="694.92" cy="82.22" r="1.1"/><circle cx="701.36" cy="78.11" r="1.1"/><circle cx="707.81" cy="75.57" r="1.1"/><circle cx="714.26" cy="69.38" r="1.1"/><circle cx="720.71" cy="65.85" r="1.1"/><circle cx="727.16" cy="58.35" r="1.1"/><circle cx="733.61" cy="52.21" r="1.1"/><circle cx="740.05" cy="48.41" r="1.1"/><circle cx="746.50" cy="48.66" r="1.1"/><circle cx="752.95" cy="18.36" r="1.1"/></g><polyline points="553.05,66.62 591.74,66.17 617.53,60.49 649.78,58.98 707.81,69.76 740.05,68.64 752.95,73.39" fill="none" stroke="#ffd42a" stroke-width="1.4" stroke-linejoin="round"/><g fill="#ffd21e"><circle cx="553.05" cy="66.62" r="1.1"/><circle cx="559.50" cy="66.54" r="1.1"/><circle cx="565.95" cy="66.47" r="1.1"/><circle cx="572.39" cy="66.39" r="1.1"/><circle cx="578.84" cy="66.32" r="1.1"/><circle cx="585.29" cy="66.25" r="1.1"/><circle cx="591.74" cy="66.17" r="1.1"/><circle cx="598.19" cy="64.75" r="1.1"/><circle cx="604.64" cy="63.33" r="1.1"/><circle cx="611.08" cy="61.91" r="1.1"/><circle cx="617.53" cy="60.49" r="1.1"/><circle cx="623.98" cy="60.19" r="1.1"/><circle cx="630.43" cy="59.88" r="1.1"/><circle cx="636.88" cy="59.58" r="1.1"/><circle cx="643.33" cy="59.28" r="1.1"/><circle cx="649.78" cy="58.98" r="1.1"/><circle cx="656.22" cy="60.19" r="1.1"/><circle cx="662.67" cy="61.39" r="1.1"/><circle cx="669.12" cy="62.59" r="1.1"/><circle cx="675.57" cy="63.79" r="1.1"/><circle cx="682.02" cy="64.99" r="1.1"/><circle cx="688.47" cy="66.18" r="1.1"/><circle cx="694.92" cy="67.38" r="1.1"/><circle cx="701.36" cy="68.57" r="1.1"/><circle cx="707.81" cy="69.76" r="1.1"/><circle cx="714.26" cy="69.53" r="1.1"/><circle cx="720.71" cy="69.31" r="1.1"/><circle cx="727.16" cy="69.09" r="1.1"/><circle cx="733.61" cy="68.87" r="1.1"/><circle cx="740.05" cy="68.64" r="1.1"/><circle cx="746.50" cy="70.32" r="1.1"/><circle cx="752.95" cy="73.39" r="1.1"/></g><polyline points="553.05,114.26 585.29,103.03 643.33,102.39 688.47,112.76 740.05,107.14 752.95,92.97" fill="none" stroke="#3c3cff" stroke-width="1.4" stroke-linejoin="round"/><g fill="#0000ff"><circle cx="553.05" cy="114.26" r="1.1"/><circle cx="559.50" cy="112.03" r="1.1"/><circle cx="565.95" cy="109.79" r="1.1"/><circle cx="572.39" cy="107.54" r="1.1"/><circle cx="578.84" cy="105.29" r="1.1"/><circle cx="585.29" cy="103.03" r="1.1"/><circle cx="591.74" cy="102.96" r="1.1"/><circle cx="598.19" cy="102.89" r="1.1"/><circle cx="604.64" cy="102.82" r="1.1"/><circle cx="611.08" cy="102.74" r="1.1"/><circle cx="617.53" cy="102.67" r="1.1"/><circle cx="623.98" cy="102.60" r="1.1"/><circle cx="630.43" cy="102.53" r="1.1"/><circle cx="636.88" cy="102.46" r="1.1"/><circle cx="643.33" cy="102.39" r="1.1"/><circle cx="649.78" cy="103.88" r="1.1"/><circle cx="656.22" cy="105.37" r="1.1"/><circle cx="662.67" cy="106.85" r="1.1"/><circle cx="669.12" cy="108.33" r="1.1"/><circle cx="675.57" cy="109.81" r="1.1"/><circle cx="682.02" cy="111.28" r="1.1"/><circle cx="688.47" cy="112.76" r="1.1"/><circle cx="694.92" cy="112.06" r="1.1"/><circle cx="701.36" cy="111.36" r="1.1"/><circle cx="707.81" cy="110.66" r="1.1"/><circle cx="714.26" cy="109.95" r="1.1"/><circle cx="720.71" cy="109.25" r="1.1"/><circle cx="727.16" cy="108.55" r="1.1"/><circle cx="733.61" cy="107.85" r="1.1"/><circle cx="740.05" cy="107.14" r="1.1"/><circle cx="746.50" cy="105.69" r="1.1"/><circle cx="752.95" cy="90.07" r="1.1"/></g><rect x="546.60" y="14.70" width="212.80" height="261.90" fill="none" stroke="#8c8c8c" stroke-width="1.2"/><text transform="translate(543.35,279) scale(1.04,1)" text-anchor="end" font-family='"Liberation Sans", sans-serif' font-weight="bold" font-size="10" fill="#262626">98</text><text transform="translate(543.35,252) scale(1.04,1)" text-anchor="end" font-family='"Liberation Sans", sans-serif' font-weight="bold" font-size="10" fill="#262626">103</text><text transform="translate(543.35,225) scale(1.04,1)" text-anchor="end" font-family='"Liberation Sans", sans-serif' font-weight="bold" font-size="10" fill="#262626">108</text><text transform="translate(543.35,198) scale(1.04,1)" text-anchor="end" font-family='"Liberation Sans", sans-serif' font-weight="bold" font-size="10" fill="#262626">113</text><text transform="translate(543.35,171) scale(1.04,1)" text-anchor="end" font-family='"Liberation Sans", sans-serif' font-weight="bold" font-size="10" fill="#262626">118</text><text transform="translate(543.35,144) scale(1.04,1)" text-anchor="end" font-family='"Liberation Sans", sans-serif' font-weight="bold" font-size="10" fill="#262626">123</text><text transform="translate(543.35,116) scale(1.04,1)" text-anchor="end" font-family='"Liberation Sans", sans-serif' font-weight="bold" font-size="10" fill="#262626">128</text><text transform="translate(543.35,89) scale(1.04,1)" text-anchor="end" font-family='"Liberation Sans", sans-serif' font-weight="bold" font-size="10" fill="#262626">133</text><text transform="translate(543.35,62) scale(1.04,1)" text-anchor="end" font-family='"Liberation Sans", sans-serif' font-weight="bold" font-size="10" fill="#262626">138</text><text transform="translate(543.35,35) scale(1.04,1)" text-anchor="end" font-family='"Liberation Sans", sans-serif' font-weight="bold" font-size="10" fill="#262626">143</text><text transform="translate(546.60,288.3) scale(0.97,1)" text-anchor="middle" font-family='"Liberation Sans", sans-serif' font-weight="bold" font-size="8.1" fill="#262626">1989</text><text transform="translate(566.40,288.3) scale(0.97,1)" text-anchor="middle" font-family='"Liberation Sans", sans-serif' font-weight="bold" font-size="8.1" fill="#262626">1992</text><text transform="translate(586.90,288.3) scale(0.97,1)" text-anchor="middle" font-family='"Liberation Sans", sans-serif' font-weight="bold" font-size="8.1" fill="#262626">1995</text><text transform="translate(607.00,288.3) scale(0.97,1)" text-anchor="middle" font-family='"Liberation Sans", sans-serif' font-weight="bold" font-size="8.1" fill="#262626">1998</text><text transform="translate(625.50,288.3) scale(0.97,1)" text-anchor="middle" font-family='"Liberation Sans", sans-serif' font-weight="bold" font-size="8.1" fill="#262626">2001</text><text transform="translate(645.50,288.3) scale(0.97,1)" text-anchor="middle" font-family='"Liberation Sans", sans-serif' font-weight="bold" font-size="8.1" fill="#262626">2004</text><text transform="translate(664.40,288.3) scale(0.97,1)" text-anchor="middle" font-family='"Liberation Sans", sans-serif' font-weight="bold" font-size="8.1" fill="#262626">2007</text><text transform="translate(683.40,288.3) scale(0.97,1)" text-anchor="middle" font-family='"Liberation Sans", sans-serif' font-weight="bold" font-size="8.1" fill="#262626">2010</text><text transform="translate(703.80,288.3) scale(0.97,1)" text-anchor="middle" font-family='"Liberation Sans", sans-serif' font-weight="bold" font-size="8.1" fill="#262626">2013</text><text transform="translate(723.80,288.3) scale(0.97,1)" text-anchor="middle" font-family='"Liberation Sans", sans-serif' font-weight="bold" font-size="8.1" fill="#262626">2016</text><text transform="translate(742.50,288.3) scale(0.97,1)" text-anchor="middle" font-family='"Liberation Sans", sans-serif' font-weight="bold" font-size="8.1" fill="#262626">2019</text><text transform="translate(761.40,288.3) scale(0.97,1)" text-anchor="middle" font-family='"Liberation Sans", sans-serif' font-weight="bold" font-size="8.1" fill="#262626">2022</text><text x="657.50" y="11.6" text-anchor="middle" font-family='"Liberation Sans", sans-serif' font-weight="bold" font-size="13.6" fill="#262626">Female</text><text transform="translate(656.30,298.6) scale(1.03,0.92)" text-anchor="middle" font-family='"Liberation Sans", sans-serif' font-weight="bold" font-size="13" fill="#262626">year</text><text transform="translate(12.1,139.2) rotate(-90) scale(1.03,1)" text-anchor="middle" font-family='"Liberation Sans", sans-serif' font-weight="bold" font-size="13" fill="#262626">ASIR(per100,000)</text><rect x="13.50" y="303.90" width="252.10" height="228.80" fill="#fff" stroke="#9a9a9a" stroke-width="1.1"/><circle cx="22.50" cy="308.50" r="1.3" fill="#0000ff"/><text transform="translate(36.10,313) scale(1,1.07)" font-family='"Liberation Sans", sans-serif' font-size="9" fill="#222" stroke="#222" stroke-width="0.12" xml:space="preserve" style="white-space:pre">Global</text><path d="M13.60 319.90H31.40" stroke="#3c3cff" stroke-width="1.6"/><text transform="translate(36.10,325) scale(1,1.07)" font-family='"Liberation Sans", sans-serif' font-size="9" fill="#222" stroke="#222" stroke-width="0.12" xml:space="preserve" style="white-space:pre">1990-1995 APC  =  0.23*</text><path d="M13.60 331.40H31.40" stroke="#3c3cff" stroke-width="1.6"/><text transform="translate(36.10,336) scale(1,1.07)" font-family='"Liberation Sans", sans-serif' font-size="9" fill="#222" stroke="#222" stroke-width="0.12" xml:space="preserve" style="white-space:pre">1995-2005 APC  = -0.04*</text><path d="M13.60 343.10H31.40" stroke="#3c3cff" stroke-width="1.6"/><text transform="translate(36.10,348) scale(1,1.07)" font-family='"Liberation Sans", sans-serif' font-size="9" fill="#222" stroke="#222" stroke-width="0.12" xml:space="preserve" style="white-space:pre">2005-2011 APC  = -0.20*</text><path d="M13.60 354.60H31.40" stroke="#3c3cff" stroke-width="1.6"/><text transform="translate(36.10,359) scale(1,1.07)" font-family='"Liberation Sans", sans-serif' font-size="9" fill="#222" stroke="#222" stroke-width="0.12" xml:space="preserve" style="white-space:pre">2011-2019 APC  =  0.07*</text><path d="M13.60 365.80H31.40" stroke="#3c3cff" stroke-width="1.6"/><text transform="translate(36.10,371) scale(1,1.07)" font-family='"Liberation Sans", sans-serif' font-size="9" fill="#222" stroke="#222" stroke-width="0.12" xml:space="preserve" style="white-space:pre">2019-2021 APC  =  0.94*</text><circle cx="22.50" cy="377.50" r="1.3" fill="#5a96cd"/><text transform="translate(36.10,382) scale(1,1.07)" font-family='"Liberation Sans", sans-serif' font-size="9" fill="#222" stroke="#222" stroke-width="0.12" xml:space="preserve" style="white-space:pre">High-middle SDI</text><path d="M13.60 389.10H31.40" stroke="#6a9fd2" stroke-width="1.6"/><text transform="translate(36.10,394) scale(1,1.07)" font-family='"Liberation Sans", sans-serif' font-size="9" fill="#222" stroke="#222" stroke-width="0.12" xml:space="preserve" style="white-space:pre">1990-2003 APC  =  0.27*</text><path d="M13.60 400.60H31.40" stroke="#6a9fd2" stroke-width="1.6"/><text transform="translate(36.10,405) scale(1,1.07)" font-family='"Liberation Sans", sans-serif' font-size="9" fill="#222" stroke="#222" stroke-width="0.12" xml:space="preserve" style="white-space:pre">2003-2011 APC  = -0.09</text><path d="M13.60 412.20H31.40" stroke="#6a9fd2" stroke-width="1.6"/><text transform="translate(36.10,417) scale(1,1.07)" font-family='"Liberation Sans", sans-serif' font-size="9" fill="#222" stroke="#222" stroke-width="0.12" xml:space="preserve" style="white-space:pre">2011-2019 APC  =  0.50*</text><path d="M13.60 423.50H31.40" stroke="#6a9fd2" stroke-width="1.6"/><text transform="translate(36.10,428) scale(1,1.07)" font-family='"Liberation Sans", sans-serif' font-size="9" fill="#222" stroke="#222" stroke-width="0.12" xml:space="preserve" style="white-space:pre">2019-2021 APC  =  1.57*</text><circle cx="22.50" cy="444.50" r="1.3" fill="#a8283a"/><text transform="translate(36.10,449) scale(1,1.07)" font-family='"Liberation Sans", sans-serif' font-size="9" fill="#222" stroke="#222" stroke-width="0.12" xml:space="preserve" style="white-space:pre">Low-middle SDI</text><path d="M13.60 456.20H31.40" stroke="#b9404e" stroke-width="1.6"/><text transform="translate(36.10,461) scale(1,1.07)" font-family='"Liberation Sans", sans-serif' font-size="9" fill="#222" stroke="#222" stroke-width="0.12" xml:space="preserve" style="white-space:pre">1990-1993 APC  = -0.18*</text><path d="M13.60 467.70H31.40" stroke="#b9404e" stroke-width="1.6"/><text transform="translate(36.10,472) scale(1,1.07)" font-family='"Liberation Sans", sans-serif' font-size="9" fill="#222" stroke="#222" stroke-width="0.12" xml:space="preserve" style="white-space:pre">1993-1999 APC  = -0.11*</text><path d="M13.60 478.90H31.40" stroke="#b9404e" stroke-width="1.6"/><text transform="translate(36.10,484) scale(1,1.07)" font-family='"Liberation Sans", sans-serif' font-size="9" fill="#222" stroke="#222" stroke-width="0.12" xml:space="preserve" style="white-space:pre">1999-2005 APC  = -0.23*</text><path d="M13.60 490.60H31.40" stroke="#b9404e" stroke-width="1.6"/><text transform="translate(36.10,495) scale(1,1.07)" font-family='"Liberation Sans", sans-serif' font-size="9" fill="#222" stroke="#222" stroke-width="0.12" xml:space="preserve" style="white-space:pre">2005-2010 APC  = -0.07*</text><path d="M13.60 502.10H31.40" stroke="#b9404e" stroke-width="1.6"/><text transform="translate(36.10,507) scale(1,1.07)" font-family='"Liberation Sans", sans-serif' font-size="9" fill="#222" stroke="#222" stroke-width="0.12" xml:space="preserve" style="white-space:pre">2010-2014 APC  = -0.41*</text><path d="M13.60 513.60H31.40" stroke="#b9404e" stroke-width="1.6"/><text transform="translate(36.10,518) scale(1,1.07)" font-family='"Liberation Sans", sans-serif' font-size="9" fill="#222" stroke="#222" stroke-width="0.12" xml:space="preserve" style="white-space:pre">2014-2019 APC  = -0.14*</text><path d="M13.60 525.00H31.40" stroke="#b9404e" stroke-width="1.6"/><text transform="translate(36.10,530) scale(1,1.07)" font-family='"Liberation Sans", sans-serif' font-size="9" fill="#222" stroke="#222" stroke-width="0.12" xml:space="preserve" style="white-space:pre">2019-2021 APC  =  1.08*</text><circle cx="149.65" cy="308.50" r="1.3" fill="#ffd21e"/><text transform="translate(163.00,313) scale(1,1.07)" font-family='"Liberation Sans", sans-serif' font-size="9" fill="#222" stroke="#222" stroke-width="0.12" xml:space="preserve" style="white-space:pre">High SDI</text><path d="M140.90 319.90H158.40" stroke="#ffd42a" stroke-width="1.6"/><text transform="translate(163.00,325) scale(1,1.07)" font-family='"Liberation Sans", sans-serif' font-size="9" fill="#222" stroke="#222" stroke-width="0.12" xml:space="preserve" style="white-space:pre">1990-2001 APC  = -0.07*</text><path d="M140.90 331.40H158.40" stroke="#ffd42a" stroke-width="1.6"/><text transform="translate(163.00,336) scale(1,1.07)" font-family='"Liberation Sans", sans-serif' font-size="9" fill="#222" stroke="#222" stroke-width="0.12" xml:space="preserve" style="white-space:pre">2001-2005 APC  =  0.00</text><path d="M140.90 343.10H158.40" stroke="#ffd42a" stroke-width="1.6"/><text transform="translate(163.00,348) scale(1,1.07)" font-family='"Liberation Sans", sans-serif' font-size="9" fill="#222" stroke="#222" stroke-width="0.12" xml:space="preserve" style="white-space:pre">2005-2015 APC  = -0.19*</text><path d="M140.90 354.60H158.40" stroke="#ffd42a" stroke-width="1.6"/><text transform="translate(163.00,359) scale(1,1.07)" font-family='"Liberation Sans", sans-serif' font-size="9" fill="#222" stroke="#222" stroke-width="0.12" xml:space="preserve" style="white-space:pre">2015-2019 APC  = -0.04</text><path d="M140.90 365.80H158.40" stroke="#ffd42a" stroke-width="1.6"/><text transform="translate(163.00,371) scale(1,1.07)" font-family='"Liberation Sans", sans-serif' font-size="9" fill="#222" stroke="#222" stroke-width="0.12" xml:space="preserve" style="white-space:pre">2019-2021 APC  = -0.38*</text><circle cx="149.65" cy="377.50" r="1.3" fill="#d9676a"/><text transform="translate(163.00,382) scale(1,1.07)" font-family='"Liberation Sans", sans-serif' font-size="9" fill="#222" stroke="#222" stroke-width="0.12" xml:space="preserve" style="white-space:pre">Middle SDI</text><path d="M140.90 389.10H158.40" stroke="#dd8086" stroke-width="1.6"/><text transform="translate(163.00,394) scale(1,1.07)" font-family='"Liberation Sans", sans-serif' font-size="9" fill="#222" stroke="#222" stroke-width="0.12" xml:space="preserve" style="white-space:pre">1990-1995 APC  =  0.86*</text><path d="M140.90 400.60H158.40" stroke="#dd8086" stroke-width="1.6"/><text transform="translate(163.00,405) scale(1,1.07)" font-family='"Liberation Sans", sans-serif' font-size="9" fill="#222" stroke="#222" stroke-width="0.12" xml:space="preserve" style="white-space:pre">1995-2011 APC  = -0.10*</text><path d="M140.90 412.20H158.40" stroke="#dd8086" stroke-width="1.6"/><text transform="translate(163.00,417) scale(1,1.07)" font-family='"Liberation Sans", sans-serif' font-size="9" fill="#222" stroke="#222" stroke-width="0.12" xml:space="preserve" style="white-space:pre">2011-2016 APC  =  0.44*</text><path d="M140.90 423.50H158.40" stroke="#dd8086" stroke-width="1.6"/><text transform="translate(163.00,428) scale(1,1.07)" font-family='"Liberation Sans", sans-serif' font-size="9" fill="#222" stroke="#222" stroke-width="0.12" xml:space="preserve" style="white-space:pre">2016-2019 APC  = -0.27</text><path d="M140.90 434.80H158.40" stroke="#dd8086" stroke-width="1.6"/><text transform="translate(163.00,440) scale(1,1.07)" font-family='"Liberation Sans", sans-serif' font-size="9" fill="#222" stroke="#222" stroke-width="0.12" xml:space="preserve" style="white-space:pre">2019-2021 APC  =  1.99*</text><circle cx="149.65" cy="444.50" r="1.3" fill="#ff6a2e"/><text transform="translate(163.00,449) scale(1,1.07)" font-family='"Liberation Sans", sans-serif' font-size="9" fill="#222" stroke="#222" stroke-width="0.12" xml:space="preserve" style="white-space:pre">Low SDI</text><path d="M140.90 456.20H158.40" stroke="#ff7a45" stroke-width="1.6"/><text transform="translate(163.00,461) scale(1,1.07)" font-family='"Liberation Sans", sans-serif' font-size="9" fill="#222" stroke="#222" stroke-width="0.12" xml:space="preserve" style="white-space:pre">1990-1993 APC  = -0.22*</text><path d="M140.90 467.70H158.40" stroke="#ff7a45" stroke-width="1.6"/><text transform="translate(163.00,472) scale(1,1.07)" font-family='"Liberation Sans", sans-serif' font-size="9" fill="#222" stroke="#222" stroke-width="0.12" xml:space="preserve" style="white-space:pre">1993-1996 APC  = -0.12*</text><path d="M140.90 478.90H158.40" stroke="#ff7a45" stroke-width="1.6"/><text transform="translate(163.00,484) scale(1,1.07)" font-family='"Liberation Sans", sans-serif' font-size="9" fill="#222" stroke="#222" stroke-width="0.12" xml:space="preserve" style="white-space:pre">1996-2005 APC  = -0.22*</text><path d="M140.90 490.60H158.40" stroke="#ff7a45" stroke-width="1.6"/><text transform="translate(163.00,495) scale(1,1.07)" font-family='"Liberation Sans", sans-serif' font-size="9" fill="#222" stroke="#222" stroke-width="0.12" xml:space="preserve" style="white-space:pre">2005-2010 APC  = -0.15*</text><path d="M140.90 502.10H158.40" stroke="#ff7a45" stroke-width="1.6"/><text transform="translate(163.00,507) scale(1,1.07)" font-family='"Liberation Sans", sans-serif' font-size="9" fill="#222" stroke="#222" stroke-width="0.12" xml:space="preserve" style="white-space:pre">2010-2013 APC  = -0.36*</text><path d="M140.90 513.60H158.40" stroke="#ff7a45" stroke-width="1.6"/><text transform="translate(163.00,518) scale(1,1.07)" font-family='"Liberation Sans", sans-serif' font-size="9" fill="#222" stroke="#222" stroke-width="0.12" xml:space="preserve" style="white-space:pre">2013-2019 APC  = -0.13*</text><path d="M140.90 525.00H158.40" stroke="#ff7a45" stroke-width="1.6"/><text transform="translate(163.00,530) scale(1,1.07)" font-family='"Liberation Sans", sans-serif' font-size="9" fill="#222" stroke="#222" stroke-width="0.12" xml:space="preserve" style="white-space:pre">2019-2021 APC  =  0.56*</text><rect x="268.00" y="303.90" width="252.10" height="228.80" fill="#fff" stroke="#9a9a9a" stroke-width="1.1"/><circle cx="279.50" cy="307.00" r="1.3" fill="#0000ff"/><text transform="translate(292.10,312) scale(1,1.07)" font-family='"Liberation Sans", sans-serif' font-size="9" fill="#222" stroke="#222" stroke-width="0.12" xml:space="preserve" style="white-space:pre">Global</text><path d="M270.80 319.00H288.20" stroke="#3c3cff" stroke-width="1.6"/><text transform="translate(292.10,324) scale(1,1.07)" font-family='"Liberation Sans", sans-serif' font-size="9" fill="#222" stroke="#222" stroke-width="0.12" xml:space="preserve" style="white-space:pre">1990-1994 APC  =  0.14*</text><path d="M270.80 330.70H288.20" stroke="#3c3cff" stroke-width="1.6"/><text transform="translate(292.10,335) scale(1,1.07)" font-family='"Liberation Sans", sans-serif' font-size="9" fill="#222" stroke="#222" stroke-width="0.12" xml:space="preserve" style="white-space:pre">1994-2011 APC  = -0.03*</text><path d="M270.80 342.30H288.20" stroke="#3c3cff" stroke-width="1.6"/><text transform="translate(292.10,347) scale(1,1.07)" font-family='"Liberation Sans", sans-serif' font-size="9" fill="#222" stroke="#222" stroke-width="0.12" xml:space="preserve" style="white-space:pre">2011-2019 APC  =  0.07*</text><path d="M270.80 353.80H288.20" stroke="#3c3cff" stroke-width="1.6"/><text transform="translate(292.10,359) scale(1,1.07)" font-family='"Liberation Sans", sans-serif' font-size="9" fill="#222" stroke="#222" stroke-width="0.12" xml:space="preserve" style="white-space:pre">2019-2021 APC  =  0.86*</text><circle cx="279.50" cy="375.40" r="1.3" fill="#5a96cd"/><text transform="translate(292.10,380) scale(1,1.07)" font-family='"Liberation Sans", sans-serif' font-size="9" fill="#222" stroke="#222" stroke-width="0.12" xml:space="preserve" style="white-space:pre">High-middle SDI</text><path d="M270.80 386.80H288.20" stroke="#6a9fd2" stroke-width="1.6"/><text transform="translate(292.10,392) scale(1,1.07)" font-family='"Liberation Sans", sans-serif' font-size="9" fill="#222" stroke="#222" stroke-width="0.12" xml:space="preserve" style="white-space:pre">1990-2004 APC  =  0.25*</text><path d="M270.80 398.30H288.20" stroke="#6a9fd2" stroke-width="1.6"/><text transform="translate(292.10,403) scale(1,1.07)" font-family='"Liberation Sans", sans-serif' font-size="9" fill="#222" stroke="#222" stroke-width="0.12" xml:space="preserve" style="white-space:pre">2004-2011 APC  = -0.04</text><path d="M270.80 409.80H288.20" stroke="#6a9fd2" stroke-width="1.6"/><text transform="translate(292.10,415) scale(1,1.07)" font-family='"Liberation Sans", sans-serif' font-size="9" fill="#222" stroke="#222" stroke-width="0.12" xml:space="preserve" style="white-space:pre">2011-2019 APC  =  0.39*</text><path d="M270.80 421.20H288.20" stroke="#6a9fd2" stroke-width="1.6"/><text transform="translate(292.10,426) scale(1,1.07)" font-family='"Liberation Sans", sans-serif' font-size="9" fill="#222" stroke="#222" stroke-width="0.12" xml:space="preserve" style="white-space:pre">2019-2021 APC  =  1.32*</text><circle cx="279.50" cy="444.40" r="1.3" fill="#a8283a"/><text transform="translate(292.10,449) scale(1,1.07)" font-family='"Liberation Sans", sans-serif' font-size="9" fill="#222" stroke="#222" stroke-width="0.12" xml:space="preserve" style="white-space:pre">Low-middle SDI</text><path d="M270.80 455.90H288.20" stroke="#b9404e" stroke-width="1.6"/><text transform="translate(292.10,461) scale(1,1.07)" font-family='"Liberation Sans", sans-serif' font-size="9" fill="#222" stroke="#222" stroke-width="0.12" xml:space="preserve" style="white-space:pre">1990-1994 APC  = -0.23*</text><path d="M270.80 467.30H288.20" stroke="#b9404e" stroke-width="1.6"/><text transform="translate(292.10,472) scale(1,1.07)" font-family='"Liberation Sans", sans-serif' font-size="9" fill="#222" stroke="#222" stroke-width="0.12" xml:space="preserve" style="white-space:pre">1994-2000 APC  = -0.04*</text><path d="M270.80 478.60H288.20" stroke="#b9404e" stroke-width="1.6"/><text transform="translate(292.10,483) scale(1,1.07)" font-family='"Liberation Sans", sans-serif' font-size="9" fill="#222" stroke="#222" stroke-width="0.12" xml:space="preserve" style="white-space:pre">2000-2005 APC  = -0.23*</text><path d="M270.80 490.30H288.20" stroke="#b9404e" stroke-width="1.6"/><text transform="translate(292.10,495) scale(1,1.07)" font-family='"Liberation Sans", sans-serif' font-size="9" fill="#222" stroke="#222" stroke-width="0.12" xml:space="preserve" style="white-space:pre">2005-2010 APC  = -0.13*</text><path d="M270.80 502.10H288.20" stroke="#b9404e" stroke-width="1.6"/><text transform="translate(292.10,507) scale(1,1.07)" font-family='"Liberation Sans", sans-serif' font-size="9" fill="#222" stroke="#222" stroke-width="0.12" xml:space="preserve" style="white-space:pre">2010-2013 APC  = -0.40*</text><path d="M270.80 513.30H288.20" stroke="#b9404e" stroke-width="1.6"/><text transform="translate(292.10,518) scale(1,1.07)" font-family='"Liberation Sans", sans-serif' font-size="9" fill="#222" stroke="#222" stroke-width="0.12" xml:space="preserve" style="white-space:pre">2013-2019 APC  = -0.13*</text><path d="M270.80 525.00H288.20" stroke="#b9404e" stroke-width="1.6"/><text transform="translate(292.10,530) scale(1,1.07)" font-family='"Liberation Sans", sans-serif' font-size="9" fill="#222" stroke="#222" stroke-width="0.12" xml:space="preserve" style="white-space:pre">2019-2021 APC  =  1.54*</text><circle cx="404.10" cy="307.00" r="1.3" fill="#ffd21e"/><text transform="translate(417.70,312) scale(1,1.07)" font-family='"Liberation Sans", sans-serif' font-size="9" fill="#222" stroke="#222" stroke-width="0.12" xml:space="preserve" style="white-space:pre">High SDI</text><path d="M395.00 319.00H413.20" stroke="#ffd42a" stroke-width="1.6"/><text transform="translate(417.70,324) scale(1,1.07)" font-family='"Liberation Sans", sans-serif' font-size="9" fill="#222" stroke="#222" stroke-width="0.12" xml:space="preserve" style="white-space:pre">1990-1995 APC  = -0.14*</text><path d="M395.00 330.70H413.20" stroke="#ffd42a" stroke-width="1.6"/><text transform="translate(417.70,335) scale(1,1.07)" font-family='"Liberation Sans", sans-serif' font-size="9" fill="#222" stroke="#222" stroke-width="0.12" xml:space="preserve" style="white-space:pre">1995-2000 APC  = -0.43*</text><path d="M395.00 342.30H413.20" stroke="#ffd42a" stroke-width="1.6"/><text transform="translate(417.70,347) scale(1,1.07)" font-family='"Liberation Sans", sans-serif' font-size="9" fill="#222" stroke="#222" stroke-width="0.12" xml:space="preserve" style="white-space:pre">2000-2009 APC  =  0.01*</text><path d="M395.00 353.80H413.20" stroke="#ffd42a" stroke-width="1.6"/><text transform="translate(417.70,359) scale(1,1.07)" font-family='"Liberation Sans", sans-serif' font-size="9" fill="#222" stroke="#222" stroke-width="0.12" xml:space="preserve" style="white-space:pre">2009-2019 APC  = -0.11*</text><path d="M395.00 364.80H413.20" stroke="#ffd42a" stroke-width="1.6"/><text transform="translate(417.70,370) scale(1,1.07)" font-family='"Liberation Sans", sans-serif' font-size="9" fill="#222" stroke="#222" stroke-width="0.12" xml:space="preserve" style="white-space:pre">2019-2021 APC  = -0.37*</text><circle cx="404.10" cy="375.40" r="1.3" fill="#d9676a"/><text transform="translate(417.70,380) scale(1,1.07)" font-family='"Liberation Sans", sans-serif' font-size="9" fill="#222" stroke="#222" stroke-width="0.12" xml:space="preserve" style="white-space:pre">Middle SDI</text><path d="M395.00 386.80H413.20" stroke="#dd8086" stroke-width="1.6"/><text transform="translate(417.70,392) scale(1,1.07)" font-family='"Liberation Sans", sans-serif' font-size="9" fill="#222" stroke="#222" stroke-width="0.12" xml:space="preserve" style="white-space:pre">1990-1997 APC  =  0.54*</text><path d="M395.00 398.30H413.20" stroke="#dd8086" stroke-width="1.6"/><text transform="translate(417.70,403) scale(1,1.07)" font-family='"Liberation Sans", sans-serif' font-size="9" fill="#222" stroke="#222" stroke-width="0.12" xml:space="preserve" style="white-space:pre">1997-2011 APC  = -0.05*</text><path d="M395.00 409.80H413.20" stroke="#dd8086" stroke-width="1.6"/><text transform="translate(417.70,415) scale(1,1.07)" font-family='"Liberation Sans", sans-serif' font-size="9" fill="#222" stroke="#222" stroke-width="0.12" xml:space="preserve" style="white-space:pre">2011-2015 APC  =  0.59*</text><path d="M395.00 421.20H413.20" stroke="#dd8086" stroke-width="1.6"/><text transform="translate(417.70,426) scale(1,1.07)" font-family='"Liberation Sans", sans-serif' font-size="9" fill="#222" stroke="#222" stroke-width="0.12" xml:space="preserve" style="white-space:pre">2015-2019 APC  = -0.18</text><path d="M395.00 432.60H413.20" stroke="#dd8086" stroke-width="1.6"/><text transform="translate(417.70,437) scale(1,1.07)" font-family='"Liberation Sans", sans-serif' font-size="9" fill="#222" stroke="#222" stroke-width="0.12" xml:space="preserve" style="white-space:pre">2019-2021 APC  =  1.78*</text><circle cx="404.10" cy="444.40" r="1.3" fill="#ff6a2e"/><text transform="translate(417.70,449) scale(1,1.07)" font-family='"Liberation Sans", sans-serif' font-size="9" fill="#222" stroke="#222" stroke-width="0.12" xml:space="preserve" style="white-space:pre">Low SDI</text><path d="M395.00 455.90H413.20" stroke="#ff7a45" stroke-width="1.6"/><text transform="translate(417.70,461) scale(1,1.07)" font-family='"Liberation Sans", sans-serif' font-size="9" fill="#222" stroke="#222" stroke-width="0.12" xml:space="preserve" style="white-space:pre">1990-1993 APC  = -0.28*</text><path d="M395.00 467.30H413.20" stroke="#ff7a45" stroke-width="1.6"/><text transform="translate(417.70,472) scale(1,1.07)" font-family='"Liberation Sans", sans-serif' font-size="9" fill="#222" stroke="#222" stroke-width="0.12" xml:space="preserve" style="white-space:pre">1993-1996 APC  = -0.18*</text><path d="M395.00 478.60H413.20" stroke="#ff7a45" stroke-width="1.6"/><text transform="translate(417.70,483) scale(1,1.07)" font-family='"Liberation Sans", sans-serif' font-size="9" fill="#222" stroke="#222" stroke-width="0.12" xml:space="preserve" style="white-space:pre">1996-2005 APC  = -0.25*</text><path d="M395.00 490.30H413.20" stroke="#ff7a45" stroke-width="1.6"/><text transform="translate(417.70,495) scale(1,1.07)" font-family='"Liberation Sans", sans-serif' font-size="9" fill="#222" stroke="#222" stroke-width="0.12" xml:space="preserve" style="white-space:pre">2005-2010 APC  = -0.21*</text><path d="M395.00 502.10H413.20" stroke="#ff7a45" stroke-width="1.6"/><text transform="translate(417.70,507) scale(1,1.07)" font-family='"Liberation Sans", sans-serif' font-size="9" fill="#222" stroke="#222" stroke-width="0.12" xml:space="preserve" style="white-space:pre">2010-2014 APC  = -0.34*</text><path d="M395.00 513.30H413.20" stroke="#ff7a45" stroke-width="1.6"/><text transform="translate(417.70,518) scale(1,1.07)" font-family='"Liberation Sans", sans-serif' font-size="9" fill="#222" stroke="#222" stroke-width="0.12" xml:space="preserve" style="white-space:pre">2014-2019 APC  = -0.10*</text><path d="M395.00 525.00H413.20" stroke="#ff7a45" stroke-width="1.6"/><text transform="translate(417.70,530) scale(1,1.07)" font-family='"Liberation Sans", sans-serif' font-size="9" fill="#222" stroke="#222" stroke-width="0.12" xml:space="preserve" style="white-space:pre">2019-2021 APC  =  0.95*</text><rect x="523.40" y="303.90" width="252.30" height="228.80" fill="#fff" stroke="#9a9a9a" stroke-width="1.1"/><circle cx="535.20" cy="307.50" r="1.3" fill="#0000ff"/><text transform="translate(548.40,312) scale(1,1.07)" font-family='"Liberation Sans", sans-serif' font-size="9" fill="#222" stroke="#222" stroke-width="0.12" xml:space="preserve" style="white-space:pre">Global</text><path d="M526.50 319.10H543.90" stroke="#3c3cff" stroke-width="1.6"/><text transform="translate(548.40,324) scale(1,1.07)" font-family='"Liberation Sans", sans-serif' font-size="9" fill="#222" stroke="#222" stroke-width="0.12" xml:space="preserve" style="white-space:pre">1990-1995 APC  =  0.32*</text><path d="M526.50 331.00H543.90" stroke="#3c3cff" stroke-width="1.6"/><text transform="translate(548.40,336) scale(1,1.07)" font-family='"Liberation Sans", sans-serif' font-size="9" fill="#222" stroke="#222" stroke-width="0.12" xml:space="preserve" style="white-space:pre">1995-2004 APC  =  0.01</text><path d="M526.50 342.30H543.90" stroke="#3c3cff" stroke-width="1.6"/><text transform="translate(548.40,347) scale(1,1.07)" font-family='"Liberation Sans", sans-serif' font-size="9" fill="#222" stroke="#222" stroke-width="0.12" xml:space="preserve" style="white-space:pre">2004-2011 APC  = -0.21*</text><path d="M526.50 353.80H543.90" stroke="#3c3cff" stroke-width="1.6"/><text transform="translate(548.40,359) scale(1,1.07)" font-family='"Liberation Sans", sans-serif' font-size="9" fill="#222" stroke="#222" stroke-width="0.12" xml:space="preserve" style="white-space:pre">2011-2019 APC  =  0.10*</text><path d="M526.50 365.50H543.90" stroke="#3c3cff" stroke-width="1.6"/><text transform="translate(548.40,370) scale(1,1.07)" font-family='"Liberation Sans", sans-serif' font-size="9" fill="#222" stroke="#222" stroke-width="0.12" xml:space="preserve" style="white-space:pre">2019-2021 APC  =  1.00*</text><circle cx="535.20" cy="387.00" r="1.3" fill="#5a96cd"/><text transform="translate(548.40,392) scale(1,1.07)" font-family='"Liberation Sans", sans-serif' font-size="9" fill="#222" stroke="#222" stroke-width="0.12" xml:space="preserve" style="white-space:pre">High-middle SDI</text><path d="M526.50 398.00H543.90" stroke="#6a9fd2" stroke-width="1.6"/><text transform="translate(548.40,403) scale(1,1.07)" font-family='"Liberation Sans", sans-serif' font-size="9" fill="#222" stroke="#222" stroke-width="0.12" xml:space="preserve" style="white-space:pre">1990-1999 APC  =  0.41*</text><path d="M526.50 409.70H543.90" stroke="#6a9fd2" stroke-width="1.6"/><text transform="translate(548.40,414) scale(1,1.07)" font-family='"Liberation Sans", sans-serif' font-size="9" fill="#222" stroke="#222" stroke-width="0.12" xml:space="preserve" style="white-space:pre">1999-2013 APC  =  0.07</text><path d="M526.50 421.40H543.90" stroke="#6a9fd2" stroke-width="1.6"/><text transform="translate(548.40,426) scale(1,1.07)" font-family='"Liberation Sans", sans-serif' font-size="9" fill="#222" stroke="#222" stroke-width="0.12" xml:space="preserve" style="white-space:pre">2013-2021 APC  =  0.84*</text><circle cx="535.20" cy="444.70" r="1.3" fill="#a8283a"/><text transform="translate(548.40,449) scale(1,1.07)" font-family='"Liberation Sans", sans-serif' font-size="9" fill="#222" stroke="#222" stroke-width="0.12" xml:space="preserve" style="white-space:pre">Low-middle SDI</text><path d="M526.50 456.20H543.90" stroke="#b9404e" stroke-width="1.6"/><text transform="translate(548.40,461) scale(1,1.07)" font-family='"Liberation Sans", sans-serif' font-size="9" fill="#222" stroke="#222" stroke-width="0.12" xml:space="preserve" style="white-space:pre">1990-1997 APC  = -0.13*</text><path d="M526.50 467.70H543.90" stroke="#b9404e" stroke-width="1.6"/><text transform="translate(548.40,472) scale(1,1.07)" font-family='"Liberation Sans", sans-serif' font-size="9" fill="#222" stroke="#222" stroke-width="0.12" xml:space="preserve" style="white-space:pre">1997-2005 APC  = -0.31*</text><path d="M526.50 478.90H543.90" stroke="#b9404e" stroke-width="1.6"/><text transform="translate(548.40,484) scale(1,1.07)" font-family='"Liberation Sans", sans-serif' font-size="9" fill="#222" stroke="#222" stroke-width="0.12" xml:space="preserve" style="white-space:pre">2005-2010 APC  = -0.07*</text><path d="M526.50 490.90H543.90" stroke="#b9404e" stroke-width="1.6"/><text transform="translate(548.40,496) scale(1,1.07)" font-family='"Liberation Sans", sans-serif' font-size="9" fill="#222" stroke="#222" stroke-width="0.12" xml:space="preserve" style="white-space:pre">2010-2014 APC  = -0.53*</text><path d="M526.50 502.60H543.90" stroke="#b9404e" stroke-width="1.6"/><text transform="translate(548.40,507) scale(1,1.07)" font-family='"Liberation Sans", sans-serif' font-size="9" fill="#222" stroke="#222" stroke-width="0.12" xml:space="preserve" style="white-space:pre">2014-2019 APC  = -0.17*</text><path d="M526.50 514.10H543.90" stroke="#b9404e" stroke-width="1.6"/><text transform="translate(548.40,519) scale(1,1.07)" font-family='"Liberation Sans", sans-serif' font-size="9" fill="#222" stroke="#222" stroke-width="0.12" xml:space="preserve" style="white-space:pre">2019-2021 APC  =  0.71*</text><circle cx="660.25" cy="307.50" r="1.3" fill="#ffd21e"/><text transform="translate(673.60,312) scale(1,1.07)" font-family='"Liberation Sans", sans-serif' font-size="9" fill="#222" stroke="#222" stroke-width="0.12" xml:space="preserve" style="white-space:pre">High SDI</text><path d="M651.40 319.10H669.10" stroke="#ffd42a" stroke-width="1.6"/><text transform="translate(673.60,324) scale(1,1.07)" font-family='"Liberation Sans", sans-serif' font-size="9" fill="#222" stroke="#222" stroke-width="0.12" xml:space="preserve" style="white-space:pre">1990-1996 APC  =  0.01</text><path d="M651.40 331.00H669.10" stroke="#ffd42a" stroke-width="1.6"/><text transform="translate(673.60,336) scale(1,1.07)" font-family='"Liberation Sans", sans-serif' font-size="9" fill="#222" stroke="#222" stroke-width="0.12" xml:space="preserve" style="white-space:pre">1996-2000 APC  =  0.19*</text><path d="M651.40 342.30H669.10" stroke="#ffd42a" stroke-width="1.6"/><text transform="translate(673.60,347) scale(1,1.07)" font-family='"Liberation Sans", sans-serif' font-size="9" fill="#222" stroke="#222" stroke-width="0.12" xml:space="preserve" style="white-space:pre">2000-2005 APC  =  0.04*</text><path d="M651.40 353.80H669.10" stroke="#ffd42a" stroke-width="1.6"/><text transform="translate(673.60,359) scale(1,1.07)" font-family='"Liberation Sans", sans-serif' font-size="9" fill="#222" stroke="#222" stroke-width="0.12" xml:space="preserve" style="white-space:pre">2005-2014 APC  = -0.16*</text><path d="M651.40 365.50H669.10" stroke="#ffd42a" stroke-width="1.6"/><text transform="translate(673.60,370) scale(1,1.07)" font-family='"Liberation Sans", sans-serif' font-size="9" fill="#222" stroke="#222" stroke-width="0.12" xml:space="preserve" style="white-space:pre">2014-2019 APC  =  0.03*</text><path d="M651.40 377.40H669.10" stroke="#ffd42a" stroke-width="1.6"/><text transform="translate(673.60,382) scale(1,1.07)" font-family='"Liberation Sans", sans-serif' font-size="9" fill="#222" stroke="#222" stroke-width="0.12" xml:space="preserve" style="white-space:pre">2019-2021 APC  = -0.32*</text><circle cx="660.25" cy="387.00" r="1.3" fill="#d9676a"/><text transform="translate(673.60,392) scale(1,1.07)" font-family='"Liberation Sans", sans-serif' font-size="9" fill="#222" stroke="#222" stroke-width="0.12" xml:space="preserve" style="white-space:pre">Middle SDI</text><path d="M651.40 398.00H669.10" stroke="#dd8086" stroke-width="1.6"/><text transform="translate(673.60,403) scale(1,1.07)" font-family='"Liberation Sans", sans-serif' font-size="9" fill="#222" stroke="#222" stroke-width="0.12" xml:space="preserve" style="white-space:pre">1990-1995 APC  =  0.95*</text><path d="M651.40 409.70H669.10" stroke="#dd8086" stroke-width="1.6"/><text transform="translate(673.60,414) scale(1,1.07)" font-family='"Liberation Sans", sans-serif' font-size="9" fill="#222" stroke="#222" stroke-width="0.12" xml:space="preserve" style="white-space:pre">1995-2010 APC  = -0.15*</text><path d="M651.40 421.40H669.10" stroke="#dd8086" stroke-width="1.6"/><text transform="translate(673.60,426) scale(1,1.07)" font-family='"Liberation Sans", sans-serif' font-size="9" fill="#222" stroke="#222" stroke-width="0.12" xml:space="preserve" style="white-space:pre">2010-2019 APC  =  0.23*</text><path d="M651.40 433.10H669.10" stroke="#dd8086" stroke-width="1.6"/><text transform="translate(673.60,438) scale(1,1.07)" font-family='"Liberation Sans", sans-serif' font-size="9" fill="#222" stroke="#222" stroke-width="0.12" xml:space="preserve" style="white-space:pre">2019-2021 APC  =  1.67*</text><circle cx="660.25" cy="444.70" r="1.3" fill="#ff6a2e"/><text transform="translate(673.60,449) scale(1,1.07)" font-family='"Liberation Sans", sans-serif' font-size="9" fill="#222" stroke="#222" stroke-width="0.12" xml:space="preserve" style="white-space:pre">Low SDI</text><path d="M651.40 456.20H669.10" stroke="#ff7a45" stroke-width="1.6"/><text transform="translate(673.60,461) scale(1,1.07)" font-family='"Liberation Sans", sans-serif' font-size="9" fill="#222" stroke="#222" stroke-width="0.12" xml:space="preserve" style="white-space:pre">1990-1993 APC  = -0.12*</text><path d="M651.40 467.70H669.10" stroke="#ff7a45" stroke-width="1.6"/><text transform="translate(673.60,472) scale(1,1.07)" font-family='"Liberation Sans", sans-serif' font-size="9" fill="#222" stroke="#222" stroke-width="0.12" xml:space="preserve" style="white-space:pre">1993-1996 APC  = -0.02</text><path d="M651.40 478.90H669.10" stroke="#ff7a45" stroke-width="1.6"/><text transform="translate(673.60,484) scale(1,1.07)" font-family='"Liberation Sans", sans-serif' font-size="9" fill="#222" stroke="#222" stroke-width="0.12" xml:space="preserve" style="white-space:pre">1996-2004 APC  = -0.25*</text><path d="M651.40 490.90H669.10" stroke="#ff7a45" stroke-width="1.6"/><text transform="translate(673.60,496) scale(1,1.07)" font-family='"Liberation Sans", sans-serif' font-size="9" fill="#222" stroke="#222" stroke-width="0.12" xml:space="preserve" style="white-space:pre">2004-2010 APC  = -0.16*</text><path d="M651.40 502.60H669.10" stroke="#ff7a45" stroke-width="1.6"/><text transform="translate(673.60,507) scale(1,1.07)" font-family='"Liberation Sans", sans-serif' font-size="9" fill="#222" stroke="#222" stroke-width="0.12" xml:space="preserve" style="white-space:pre">2010-2013 APC  = -0.36*</text><path d="M651.40 514.10H669.10" stroke="#ff7a45" stroke-width="1.6"/><text transform="translate(673.60,519) scale(1,1.07)" font-family='"Liberation Sans", sans-serif' font-size="9" fill="#222" stroke="#222" stroke-width="0.12" xml:space="preserve" style="white-space:pre">2013-2019 APC  = -0.18*</text><path d="M651.40 525.60H669.10" stroke="#ff7a45" stroke-width="1.6"/><text transform="translate(673.60,530) scale(1,1.07)" font-family='"Liberation Sans", sans-serif' font-size="9" fill="#222" stroke="#222" stroke-width="0.12" xml:space="preserve" style="white-space:pre">2019-2021 APC  =  0.16*</text></svg>
</body></html>
